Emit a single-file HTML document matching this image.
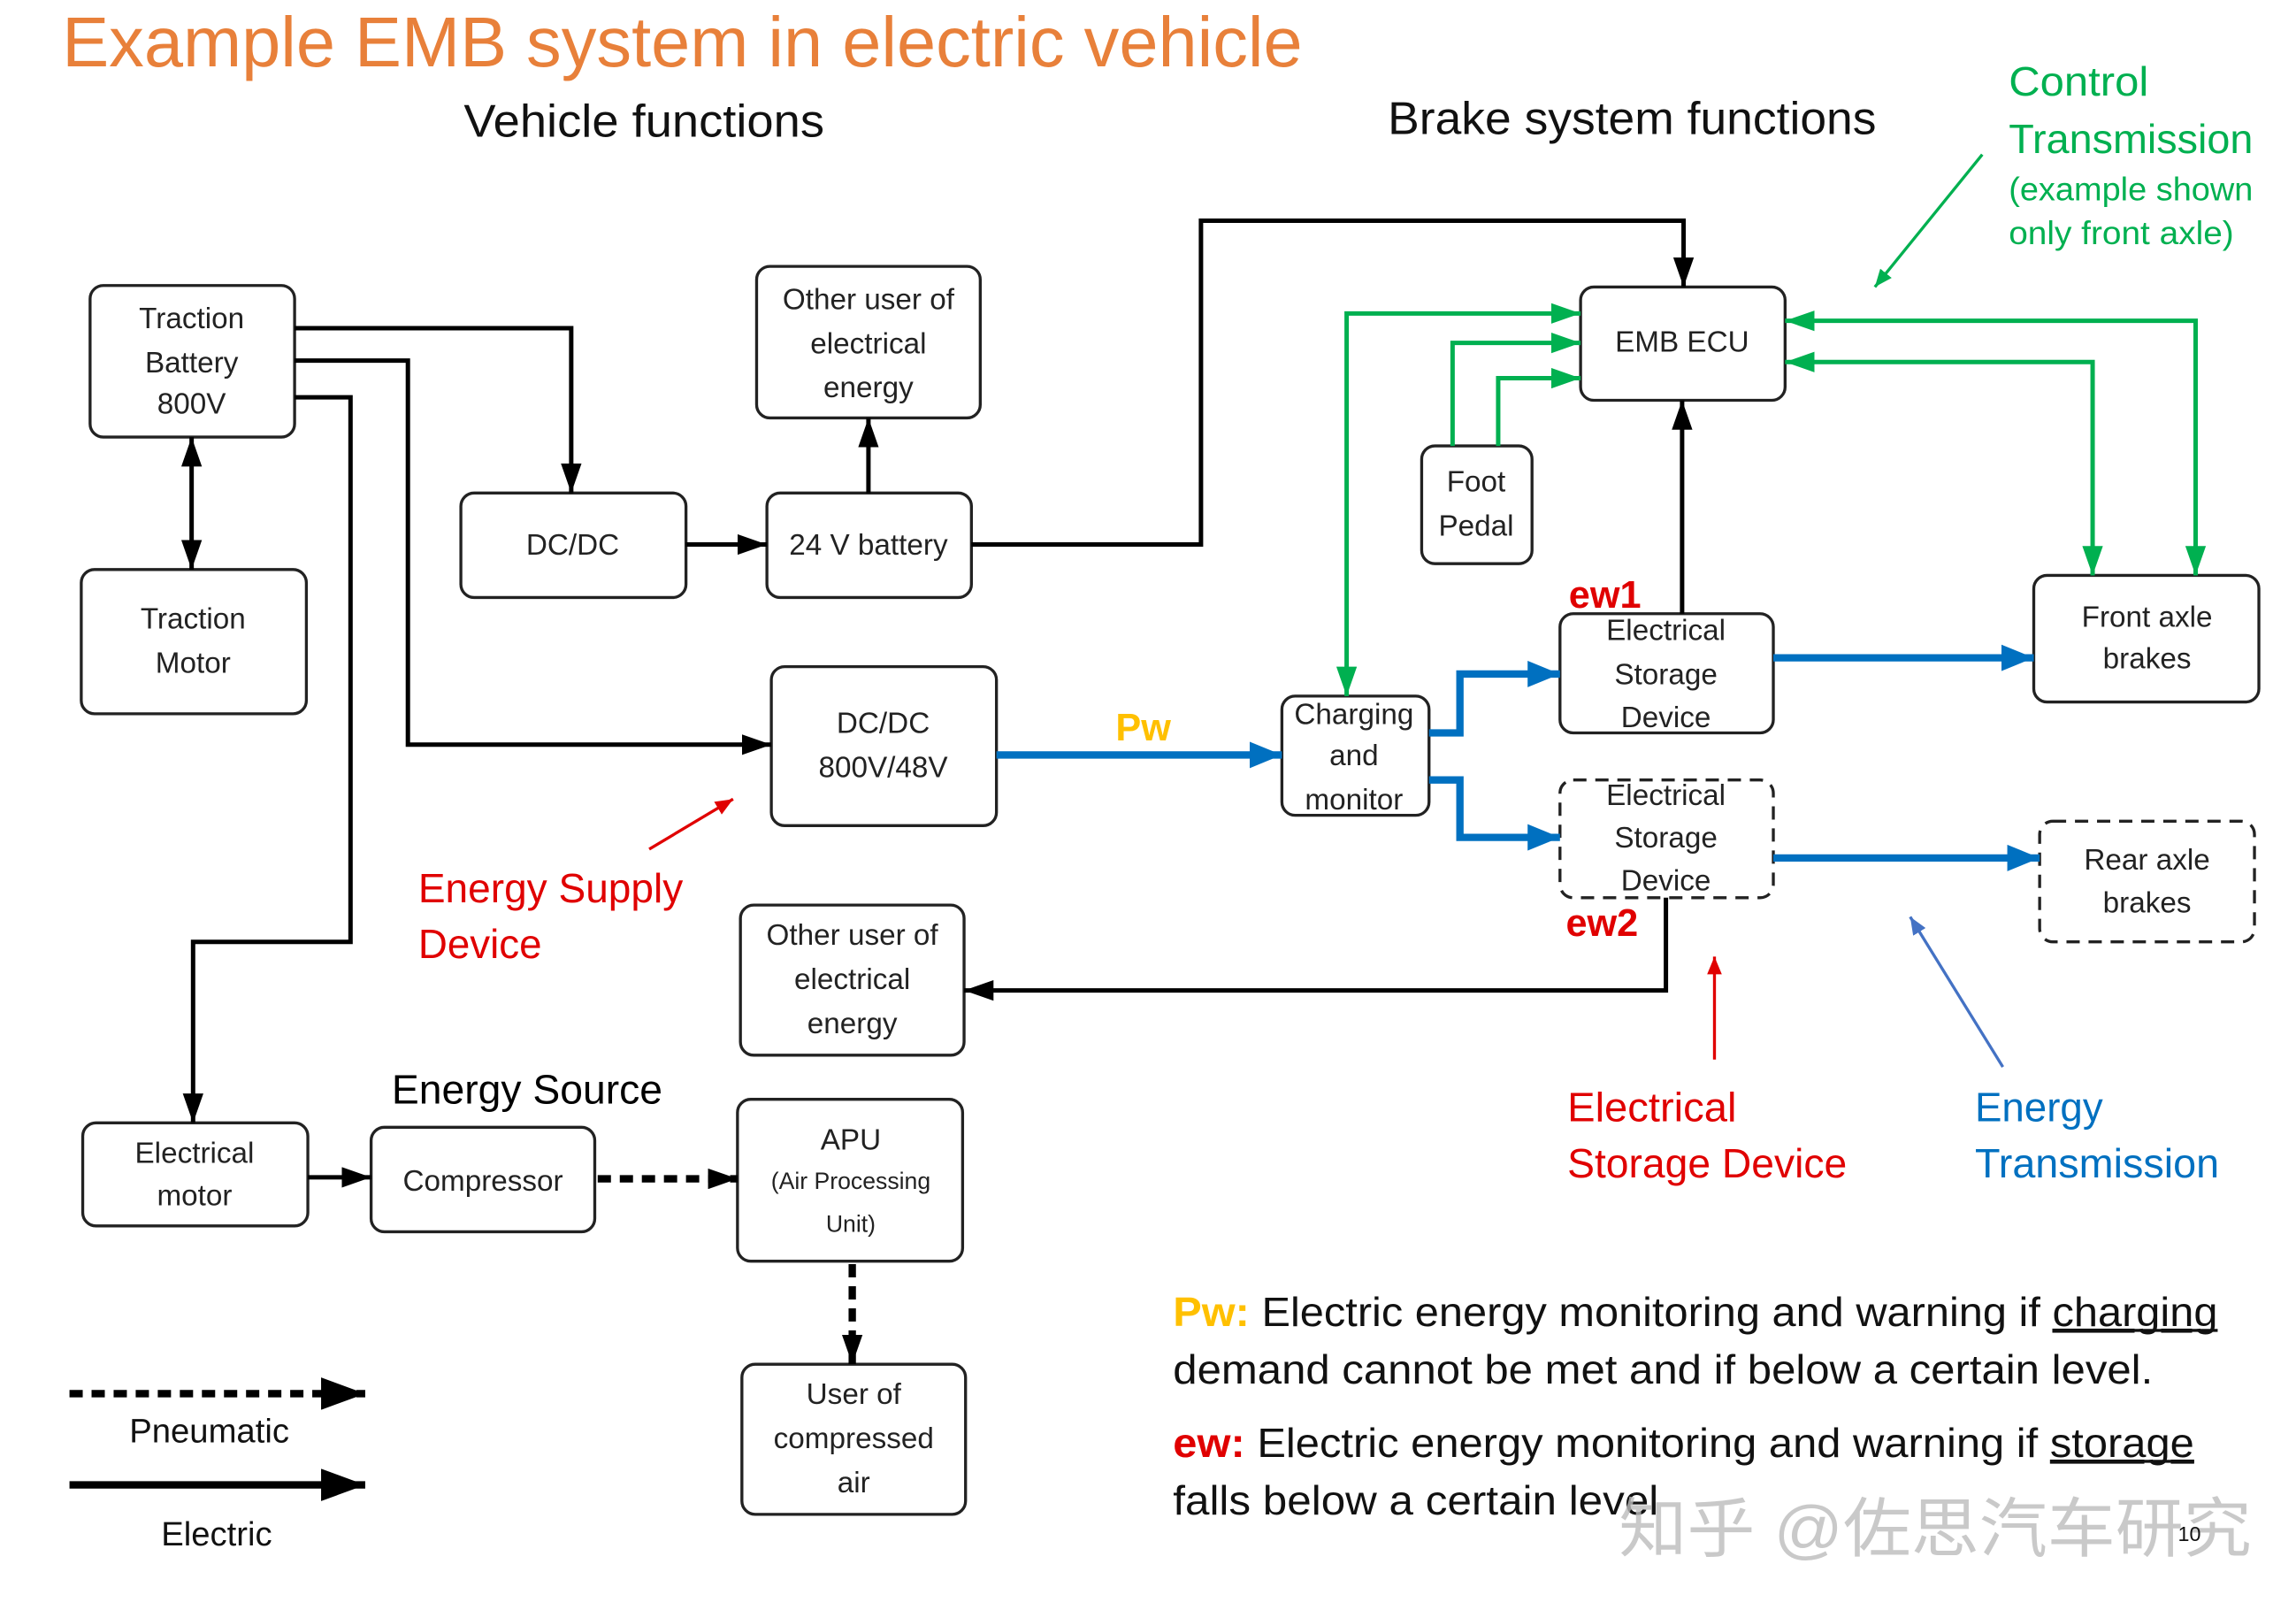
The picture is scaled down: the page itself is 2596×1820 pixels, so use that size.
<!DOCTYPE html>
<html><head><meta charset="utf-8"><style>
html,body{margin:0;padding:0;background:#fff;}
svg{display:block;}
text{font-family:"Liberation Sans","Noto Sans CJK SC",sans-serif;}
</style></head><body>
<svg width="2596" height="1820" viewBox="0 0 1560 1094" xmlns="http://www.w3.org/2000/svg">
<defs>
<marker id="ak" viewBox="0 0 20 14" refX="20" refY="7" markerWidth="20" markerHeight="14" markerUnits="userSpaceOnUse" orient="auto-start-reverse"><path d="M0,0 L20,7 L0,14z" fill="#000"/></marker>
<marker id="ab" viewBox="0 0 22 18" refX="22" refY="9" markerWidth="22" markerHeight="18" markerUnits="userSpaceOnUse" orient="auto"><path d="M0,0 L22,9 L0,18z" fill="#0070C0"/></marker>
<marker id="ag" viewBox="0 0 20 14" refX="20" refY="7" markerWidth="20" markerHeight="14" markerUnits="userSpaceOnUse" orient="auto-start-reverse"><path d="M0,0 L20,7 L0,14z" fill="#00B050"/></marker>
<marker id="al" viewBox="0 0 30 22" refX="30" refY="11" markerWidth="30" markerHeight="22" markerUnits="userSpaceOnUse" orient="auto"><path d="M0,0 L30,11 L0,22z" fill="#000"/></marker>
<marker id="ar" viewBox="0 0 12 10" refX="12" refY="5" markerWidth="12" markerHeight="10" markerUnits="userSpaceOnUse" orient="auto"><path d="M0,0 L12,5 L0,10z" fill="#E00000"/></marker>
<marker id="agt" viewBox="0 0 12 10" refX="12" refY="5" markerWidth="12" markerHeight="10" markerUnits="userSpaceOnUse" orient="auto"><path d="M0,0 L12,5 L0,10z" fill="#00B050"/></marker>
<marker id="abt" viewBox="0 0 12 10" refX="12" refY="5" markerWidth="12" markerHeight="10" markerUnits="userSpaceOnUse" orient="auto"><path d="M0,0 L12,5 L0,10z" fill="#4472C4"/></marker>
</defs>

<!-- headings -->
<text x="42" y="45" font-size="48" fill="#E8803A" textLength="843" lengthAdjust="spacingAndGlyphs">Example EMB system in electric vehicle</text>
<text x="315" y="93" font-size="31" fill="#111" textLength="245" lengthAdjust="spacingAndGlyphs">Vehicle functions</text>
<text x="943" y="91" font-size="31" fill="#111" textLength="332" lengthAdjust="spacingAndGlyphs">Brake system functions</text>
<g fill="#00B050">
<text x="1365" y="65" font-size="28" textLength="95" lengthAdjust="spacingAndGlyphs">Control</text>
<text x="1365" y="104" font-size="28" textLength="166" lengthAdjust="spacingAndGlyphs">Transmission</text>
<text x="1365" y="136" font-size="22" textLength="166" lengthAdjust="spacingAndGlyphs">(example shown</text>
<text x="1365" y="166" font-size="22" textLength="153" lengthAdjust="spacingAndGlyphs">only front axle)</text>
</g>

<!-- boxes -->
<g fill="#fff" stroke="#222" stroke-width="2">
<rect x="61" y="194" width="139" height="103" rx="9"/>
<rect x="55" y="387" width="153" height="98" rx="9"/>
<rect x="313" y="335" width="153" height="71" rx="9"/>
<rect x="521" y="335" width="139" height="71" rx="9"/>
<rect x="514" y="181" width="152" height="103" rx="9"/>
<rect x="524" y="453" width="153" height="108" rx="9"/>
<rect x="871" y="473" width="100" height="81" rx="9"/>
<rect x="966" y="303" width="75" height="80" rx="9"/>
<rect x="1074" y="195" width="139" height="77" rx="9"/>
<rect x="1060" y="417" width="145" height="81" rx="9"/>
<rect x="1060" y="530" width="145" height="80" rx="9" stroke-dasharray="9,6"/>
<rect x="1382" y="391" width="153" height="86" rx="9"/>
<rect x="1386" y="558" width="146" height="82" rx="9" stroke-dasharray="9,6"/>
<rect x="503" y="615" width="152" height="102" rx="9"/>
<rect x="56" y="763" width="153" height="70" rx="9"/>
<rect x="252" y="766" width="152" height="71" rx="9"/>
<rect x="501" y="747" width="153" height="110" rx="9"/>
<rect x="504" y="927" width="152" height="102" rx="9"/>
</g>

<!-- box text -->
<g font-size="20" fill="#222" text-anchor="middle">
<text x="130" y="223">Traction</text><text x="130" y="253">Battery</text><text x="130" y="281">800V</text>
<text x="131" y="427">Traction</text><text x="131" y="457">Motor</text>
<text x="389" y="377">DC/DC</text>
<text x="590" y="377">24 V battery</text>
<text x="590" y="210">Other user of</text><text x="590" y="240">electrical</text><text x="590" y="270">energy</text>
<text x="600" y="498">DC/DC</text><text x="600" y="528">800V/48V</text>
<text x="920" y="492">Charging</text><text x="920" y="520">and</text><text x="920" y="550">monitor</text>
<text x="1003" y="334">Foot</text><text x="1003" y="364">Pedal</text>
<text x="1143" y="239">EMB ECU</text>
<text x="1132" y="435">Electrical</text><text x="1132" y="465">Storage</text><text x="1132" y="494">Device</text>
<text x="1132" y="547">Electrical</text><text x="1132" y="576">Storage</text><text x="1132" y="605">Device</text>
<text x="1459" y="426">Front axle</text><text x="1459" y="454">brakes</text>
<text x="1459" y="591">Rear axle</text><text x="1459" y="620">brakes</text>
<text x="579" y="642">Other user of</text><text x="579" y="672">electrical</text><text x="579" y="702">energy</text>
<text x="132" y="790">Electrical</text><text x="132" y="819">motor</text>
<text x="328" y="809">Compressor</text>
<text x="578" y="781">APU</text><text x="578" y="808" font-size="16">(Air Processing</text><text x="578" y="837" font-size="16">Unit)</text>
<text x="580" y="954">User of</text><text x="580" y="984">compressed</text><text x="580" y="1014">air</text>
</g>

<!-- black connectors -->
<g fill="none" stroke="#000" stroke-width="3">
<polyline points="200,223 388,223 388,335" marker-end="url(#ak)"/>
<polyline points="200,245 277,245 277,506 524,506" marker-end="url(#ak)"/>
<polyline points="200,270 238,270 238,640 131,640 131,763" marker-end="url(#ak)"/>
<line x1="130" y1="297" x2="130" y2="387" marker-start="url(#ak)" marker-end="url(#ak)"/>
<line x1="466" y1="370" x2="521" y2="370" marker-end="url(#ak)"/>
<line x1="590" y1="335" x2="590" y2="284" marker-end="url(#ak)"/>
<polyline points="660,370 816,370 816,150 1144,150 1144,195" marker-end="url(#ak)"/>
<line x1="1143" y1="417" x2="1143" y2="272" marker-end="url(#ak)"/>
<polyline points="1132,610 1132,673 655,673" marker-end="url(#ak)"/>
<line x1="209" y1="800" x2="252" y2="800" marker-end="url(#ak)"/>
<line x1="406" y1="801" x2="501" y2="801" stroke-width="5" stroke-dasharray="9,6" marker-end="url(#ak)"/>
<line x1="579" y1="859" x2="579" y2="927" stroke-width="5" stroke-dasharray="9,6" marker-end="url(#ak)"/>
<line x1="47" y1="947" x2="248" y2="947" stroke-width="5" stroke-dasharray="9,6" marker-end="url(#al)"/>
<line x1="47" y1="1009" x2="248" y2="1009" stroke-width="5" marker-end="url(#al)"/>
</g>
<text x="142" y="980" font-size="23" fill="#111" text-anchor="middle">Pneumatic</text>
<text x="147" y="1050" font-size="23" fill="#111" text-anchor="middle">Electric</text>

<!-- blue connectors -->
<g fill="none" stroke="#0070C0" stroke-width="5">
<line x1="677" y1="513" x2="871" y2="513" marker-end="url(#ab)"/>
<polyline points="971,498 992,498 992,458 1060,458" marker-end="url(#ab)"/>
<polyline points="971,530 992,530 992,569 1060,569" marker-end="url(#ab)"/>
<line x1="1205" y1="447" x2="1382" y2="447" marker-end="url(#ab)"/>
<line x1="1205" y1="583" x2="1386" y2="583" marker-end="url(#ab)"/>
</g>
<text x="758" y="503" font-size="26" font-weight="bold" fill="#FFC000">Pw</text>

<!-- green connectors -->
<g fill="none" stroke="#00B050" stroke-width="3">
<polyline points="1074,213 915,213 915,473" marker-start="url(#ag)" marker-end="url(#ag)"/>
<polyline points="987,303 987,233 1074,233" marker-end="url(#ag)"/>
<polyline points="1018,303 1018,257 1074,257" marker-end="url(#ag)"/>
<polyline points="1213,218 1492,218 1492,391" marker-start="url(#ag)" marker-end="url(#ag)"/>
<polyline points="1213,246 1422,246 1422,391" marker-start="url(#ag)" marker-end="url(#ag)"/>
<line x1="1347" y1="105" x2="1274" y2="195" stroke-width="2" marker-end="url(#agt)"/>
</g>

<!-- red labels -->
<text x="1066" y="413" font-size="26" font-weight="bold" fill="#E00000">ew1</text>
<text x="1064" y="636" font-size="26" font-weight="bold" fill="#E00000">ew2</text>
<line x1="441" y1="577" x2="498" y2="543" stroke="#E00000" stroke-width="2" marker-end="url(#ar)"/>
<g fill="#E00000" font-size="28">
<text x="284" y="613" textLength="180" lengthAdjust="spacingAndGlyphs">Energy Supply</text>
<text x="284" y="651" textLength="84" lengthAdjust="spacingAndGlyphs">Device</text>
<text x="1065" y="762" textLength="115" lengthAdjust="spacingAndGlyphs">Electrical</text>
<text x="1065" y="800" textLength="190" lengthAdjust="spacingAndGlyphs">Storage Device</text>
</g>
<line x1="1165" y1="720" x2="1165" y2="650" stroke="#E00000" stroke-width="2" marker-end="url(#ar)"/>
<line x1="1361" y1="725" x2="1298" y2="623" stroke="#4472C4" stroke-width="2" marker-end="url(#abt)"/>
<g fill="#0070C0" font-size="28">
<text x="1342" y="762" textLength="87" lengthAdjust="spacingAndGlyphs">Energy</text>
<text x="1342" y="800" textLength="166" lengthAdjust="spacingAndGlyphs">Transmission</text>
</g>
<text x="266" y="750" font-size="28" fill="#000" textLength="184" lengthAdjust="spacingAndGlyphs">Energy Source</text>

<!-- bottom notes -->
<g font-size="28" fill="#111">
<text x="797" y="901" textLength="710" lengthAdjust="spacingAndGlyphs"><tspan fill="#FFC000" font-weight="bold">Pw:</tspan> Electric energy monitoring and warning if <tspan text-decoration="underline">charging</tspan></text>
<text x="797" y="940" textLength="666" lengthAdjust="spacingAndGlyphs">demand cannot be met and if below a certain level.</text>
<text x="797" y="990" textLength="694" lengthAdjust="spacingAndGlyphs"><tspan fill="#E00000" font-weight="bold">ew:</tspan> Electric energy monitoring and warning if <tspan text-decoration="underline">storage</tspan></text>
<text x="797" y="1029" textLength="330" lengthAdjust="spacingAndGlyphs">falls below a certain level</text>
</g>
<line x1="1397" y1="904" x2="1507" y2="904" stroke="#111" stroke-width="2"/>
<line x1="1396" y1="993" x2="1491" y2="993" stroke="#111" stroke-width="2"/>
<text x="1100" y="1054" font-size="44" fill="#bbb" fill-opacity="0.8" textLength="430" lengthAdjust="spacingAndGlyphs">知乎 @佐思汽车研究</text>
<text x="1480" y="1047" font-size="14" fill="#111">10</text>
</svg>
</body></html>
